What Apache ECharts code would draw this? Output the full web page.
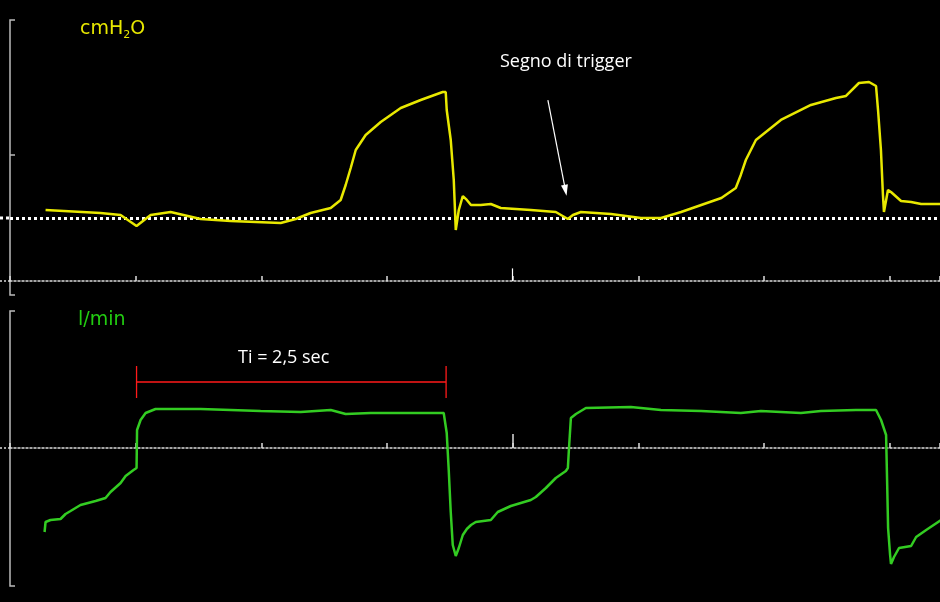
<!DOCTYPE html>
<html>
<head>
<meta charset="utf-8">
<script src="https://cdn.jsdelivr.net/npm/echarts@6/dist/echarts.min.js"></script>
<style>
  html, body { margin: 0; padding: 0; background: #000; }
  #chart { width: 940px; height: 602px; }
</style>
</head>
<body>
<div id="chart"></div>
<script>
// tempo in secondi, pressione in cmH2O (scala arbitraria), flusso in l/min
const pressureTime = [0.283, 0.72, 0.88, 1.007, 1.119, 1.278, 1.517, 1.756, 2.154, 2.273, 2.392, 2.552, 2.631, 2.671, 2.711, 2.751, 2.83, 2.95, 3.109, 3.268, 3.443, 3.467, 3.475, 3.507, 3.531, 3.547, 3.571, 3.603, 3.635, 3.668,
  3.746, 3.826, 3.905, 4.144, 4.343, 4.439, 4.479, 4.543, 4.782, 5.02, 5.18, 5.34, 5.5, 5.66, 5.775, 5.815, 5.855, 5.935, 6.134, 6.373, 6.572, 6.652, 6.755, 6.835, 6.891, 6.907, 6.93, 6.946, 6.954, 6.986, 7.01, 7.09, 7.17, 7.25, 7.41];
const pressure = [1.27, 0.79, 0.48, -1.27, 0.48, 0.95, -0.16, -0.48, -0.79, -0.16, 0.79, 1.59, 2.86, 5.24, 7.94, 10.79, 13.17, 15.24, 17.46, 18.73, 20, 20, 17.14, 12.38, 6.03, -1.9, 1.27, 3.49, 2.86, 2.06,
  2.06, 2.22, 1.59, 1.27, 0.95, -0.16, 0.48, 0.95, 0.63, 0, 0, 0.95, 2.06, 3.17, 4.76, 6.83, 9.21, 12.38, 15.56, 17.94, 19.05, 19.37, 21.43, 21.59, 20.95, 17.14, 10.79, 3.65, 0.95, 4.44, 4.13, 2.7, 2.54, 2.22, 2.22];

const flowTime = [0.275, 0.283, 0.322, 0.402, 0.442, 0.482, 0.561, 0.681, 0.76, 0.8, 0.88, 0.92, 0.983, 1.007, 1.011, 1.039, 1.079, 1.158, 1.517, 1.994, 2.313, 2.552, 2.671, 2.87, 3.109, 3.451, 3.475, 3.491, 3.507, 3.523, 3.547, 3.571, 3.603, 3.635, 3.668,
  3.706, 3.826, 3.881, 3.985, 4.144, 4.184, 4.264, 4.343, 4.423, 4.439, 4.447, 4.463, 4.503, 4.582, 4.94, 5.18, 5.5, 5.815, 5.975, 6.293, 6.452, 6.731, 6.891, 6.931, 6.971, 6.979, 6.987, 7.003, 7.01, 7.034, 7.074, 7.17, 7.21, 7.29, 7.41];
const flow = [-42, -37, -36, -35.5, -33, -31.5, -28.5, -26.5, -25, -22, -17.5, -14, -11, -10, 9, 14, 17.5, 19.5, 19.5, 18.5, 18, 19, 17, 17.5, 17.5, 17.5, 7.5, -11, -32, -48.5, -54, -50, -43.5, -40.5, -38.5,
  -37, -36, -32, -29, -26, -24.5, -20, -15, -11.5, -10, -1, 15, 17, 20, 20.5, 19, 18.5, 17.5, 18.5, 17.5, 18.5, 19, 19, 14, 6.5, -16, -40, -53.5, -58, -54.5, -50, -49, -44.5, -41, -36];

const tiStart = 1.007, tiEnd = 3.47;   // Ti = 2,5 sec
const triggerFrom = [4.28, 18.7], triggerTo = [4.42, 4.4];

const zip = (xs, ys) => xs.map((x, i) => [x, ys[i]]);

const chart = echarts.init(document.getElementById("chart"));

const xBase = {
  type: "value", min: 0, max: 7.4, interval: 1,
  axisLabel: { show: false }, splitLine: { show: false },
  axisLine: { lineStyle: { color: "#ddd", type: [2, 2], width: 1.5 } },
  axisTick: { inside: true, length: 5, lineStyle: { color: "#ddd", width: 1.5 } },
};
const yBase = { type: "value", show: false, splitLine: { show: false } };

chart.setOption({
  backgroundColor: "#000",
  animation: false,
  grid: [
    { left: 10, width: 930, top: 20, height: 261 },
    { left: 10, width: 930, top: 310, height: 277 },
  ],
  xAxis: [
    { ...xBase, gridIndex: 0, axisLine: { ...xBase.axisLine, onZero: false } },
    { ...xBase, gridIndex: 1, axisLine: { ...xBase.axisLine, onZero: true } },
  ],
  yAxis: [
    { ...yBase, gridIndex: 0, min: -10, max: 31.43 },
    { ...yBase, gridIndex: 1, min: -69.5, max: 69 },
  ],
  series: [
    {
      type: "line", xAxisIndex: 0, yAxisIndex: 0, showSymbol: false,
      data: zip(pressureTime, pressure),
      lineStyle: { color: "#e8e800", width: 2.5 }, z: 5,
      markLine: {
        silent: true, symbol: "none", label: { show: false },
        data: [
          { yAxis: 0, lineStyle: { color: "#fff", type: [3, 3], width: 3 } },
          [{ coord: [4, -10] }, { coord: [4, -8] }],
          [{ coord: triggerFrom, symbol: "none" },
           { coord: triggerTo, symbol: "triangle", symbolSize: [7, 11] }],
        ],
        lineStyle: { color: "#fff", type: "solid", width: 1.2 },
      },
    },
    {
      type: "line", xAxisIndex: 1, yAxisIndex: 1, showSymbol: false,
      data: zip(flowTime, flow),
      lineStyle: { color: "#33cc22", width: 2.5 }, z: 5,
      markLine: {
        silent: true, symbol: "none", label: { show: false },
        lineStyle: { color: "#ddd", type: "solid", width: 1.5 },
        data: [[{ coord: [4, 0] }, { coord: [4, 7] }]],
      },
    },
    {
      // bracket Ti
      type: "line", xAxisIndex: 1, yAxisIndex: 1, showSymbol: false, silent: true,
      data: [[tiStart, 41], [tiStart, 33], [tiEnd, 33], [tiEnd, 41], [tiEnd, 25], [tiEnd, 33], [tiStart, 33], [tiStart, 25]],
      lineStyle: { color: "#ff1a1a", width: 1.3 },
    },
  ],
  graphic: [
    // parentesi assi
    { type: "polyline", shape: { points: [[15, 20], [10, 20], [10, 295], [15, 295]] }, style: { stroke: "#bbb", lineWidth: 1.5, fill: null } },
    { type: "line", shape: { x1: 10, y1: 155, x2: 15, y2: 155 }, style: { stroke: "#bbb", lineWidth: 1.5 } },
    { type: "polyline", shape: { points: [[15, 311], [10, 311], [10, 586], [15, 586]] }, style: { stroke: "#bbb", lineWidth: 1.5, fill: null } },
    { type: "line", shape: { x1: 0, y1: 448, x2: 10, y2: 448 }, style: { stroke: "#ddd", lineWidth: 1.5, lineDash: [2, 2] } },
    { type: "line", shape: { x1: 0, y1: 281, x2: 10, y2: 281 }, style: { stroke: "#ddd", lineWidth: 1.5, lineDash: [2, 2] } },
    { type: "line", shape: { x1: 0, y1: 218, x2: 10, y2: 218 }, style: { stroke: "#fff", lineWidth: 3, lineDash: [3, 3] } },
    {
      type: "text", left: 80, top: 20,
      style: {
        text: "{a|cmH}{s|2}{a|O}", fill: "#e8e800",
        rich: { a: { fontSize: 19, fontFamily: "DejaVu Sans", fill: "#e8e800" },
                s: { fontSize: 11, fontFamily: "DejaVu Sans", fill: "#e8e800", padding: [12, 0, 0, 0] } },
      },
    },
    { type: "text", left: 78, top: 311, style: { text: "l/min", fill: "#22cc11", fontSize: 19, fontFamily: "DejaVu Sans" } },
    { type: "text", left: 500, top: 53, style: { text: "Segno di trigger", fill: "#fff", fontSize: 18, fontFamily: "Open Sans" } },
    { type: "text", left: 238, top: 349, style: { text: "Ti = 2,5 sec", fill: "#fff", fontSize: 18, fontFamily: "Open Sans" } },
  ],
});
</script>
</body>
</html>
